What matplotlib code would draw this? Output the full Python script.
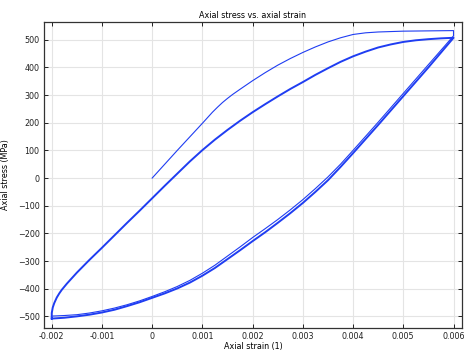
import numpy as np
import matplotlib.pyplot as plt

# first loading (thin line)
load_strain = [0, 0.0005, 0.001, 0.0012, 0.0013, 0.0014, 0.0015, 0.0016, 0.00175, 0.002,
               0.00225, 0.0025, 0.00275, 0.003, 0.00325, 0.0035, 0.00375, 0.004, 0.00425,
               0.0045, 0.005, 0.0055, 0.006]
load_stress = [0, 100, 198, 238, 256, 273, 288, 302, 321, 352, 381, 408, 432, 454, 474,
               492, 507, 519, 525, 528, 531, 532, 533]

# first unloading (thin line)
unload1_strain = [0.006, 0.006, 0.0055, 0.005, 0.0045, 0.004, 0.00375, 0.0035, 0.00325,
                  0.003, 0.00275, 0.0025, 0.00225, 0.002, 0.00175, 0.0015, 0.00125, 0.001,
                  0.00075, 0.0005, 0.00025, 0, -0.00025, -0.0005, -0.00075, -0.001,
                  -0.00125, -0.0015, -0.00175, -0.002]
unload1_stress = [533, 514, 410, 306, 202, 100, 50, 4, -38, -78, -115, -150, -183, -215,
                  -249, -282, -315, -344, -370, -392, -411, -428, -444, -458, -470, -480,
                  -488, -494, -497, -499]

# stabilised reloading (thick line)
reload_strain = [-0.002, -0.002, -0.00198, -0.00195, -0.0019, -0.00185, -0.0018, -0.0017,
                 -0.0015, -0.00125, -0.001, -0.00075, -0.0005, -0.00025, 0, 0.00025, 0.0005,
                 0.00075, 0.001, 0.00125, 0.0015, 0.00175, 0.002, 0.00225, 0.0025, 0.00275,
                 0.003, 0.00325, 0.0035, 0.00375, 0.004, 0.00425, 0.0045, 0.00475, 0.005,
                 0.00525, 0.0055, 0.00575, 0.006]
reload_stress = [-508, -488, -468, -452, -432, -417, -404, -382, -342, -296, -252, -207,
                 -162, -118, -73, -28, 16, 60, 101, 139, 174, 207, 238, 267, 295, 322, 347,
                 373, 397, 420, 440, 457, 472, 483, 492, 498, 502, 505, 507]

# stabilised unloading (thick line)
unload_strain = [0.006, 0.0055, 0.005, 0.0045, 0.004, 0.00375, 0.0035, 0.00325, 0.003,
                 0.00275, 0.0025, 0.00225, 0.002, 0.00175, 0.0015, 0.00125, 0.001, 0.00075,
                 0.0005, 0.00025, 0, -0.00025, -0.0005, -0.00075, -0.001, -0.00125, -0.0015,
                 -0.00175, -0.002]
unload_stress = [507, 400, 296, 192, 90, 40, -8, -50, -90, -127, -162, -196, -228, -261,
                 -293, -325, -353, -378, -399, -417, -433, -449, -463, -476, -486, -494,
                 -500, -505, -508]

blue = '#1f3df2'
fs = 5.8

fig = plt.figure(figsize=(4.71, 3.54), dpi=100)
ax = fig.add_axes([0.0928, 0.0743, 0.8882, 0.8627])

ax.plot(load_strain + unload1_strain, load_stress + unload1_stress, color=blue, lw=0.8)
ax.plot(reload_strain + unload_strain, reload_stress + unload_stress, color=blue, lw=1.4)

ax.set_xlim(-0.00216, 0.00617)
ax.set_ylim(-541, 563)
ax.set_xticks(np.arange(-0.002, 0.0061, 0.001))
ax.set_xticklabels(['-0.002', '-0.001', '0', '0.001', '0.002', '0.003', '0.004', '0.005', '0.006'])
ax.set_yticks(range(-500, 501, 100))
ax.grid(True, color='#e4e4e4', lw=0.8)
ax.set_axisbelow(True)
ax.tick_params(direction='in', length=3, width=0.7, labelsize=fs, pad=3,
               top=True, right=True, colors='#222222')
for s in ax.spines.values():
    s.set_color('#333333')
    s.set_linewidth(0.9)

ax.set_title('Axial stress vs. axial strain', fontsize=fs, pad=3)
ax.set_xlabel('Axial strain (1)', fontsize=fs, labelpad=0.5)
ax.set_ylabel('Axial stress (MPa)', fontsize=fs)
ax.yaxis.set_label_coords(-0.080, 0.5)

plt.savefig('out.png', dpi=100)
